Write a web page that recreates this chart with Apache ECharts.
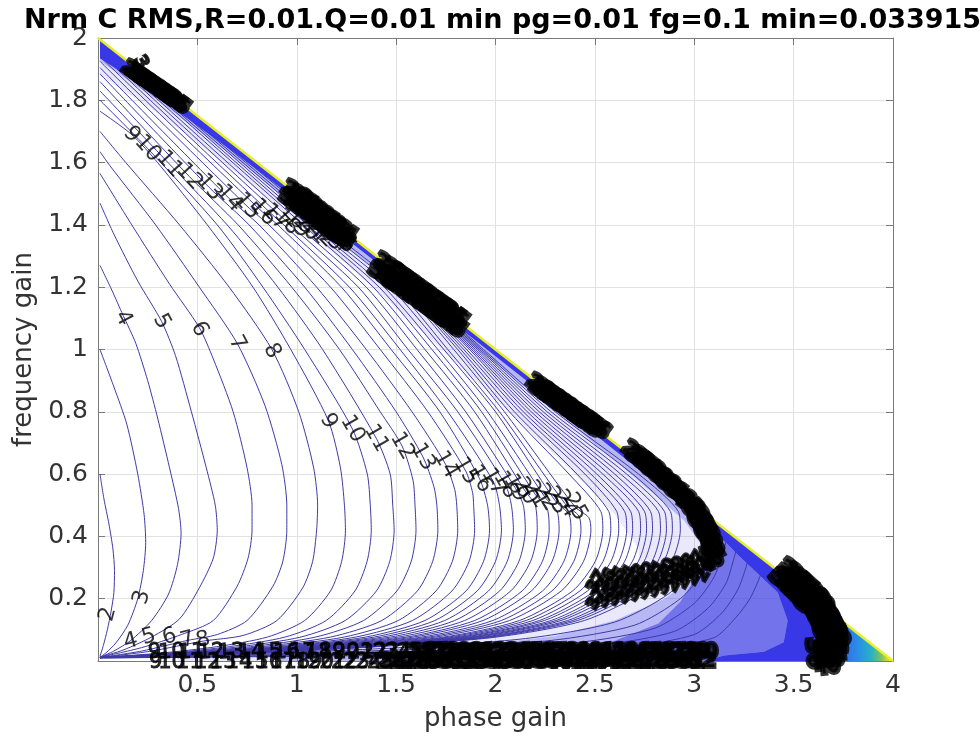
<!DOCTYPE html>
<html><head><meta charset="utf-8">
<script src="https://cdn.jsdelivr.net/npm/echarts@6/dist/echarts.min.js"></script>
<style>html,body{margin:0;padding:0;background:#fff}#c{width:980px;height:740px}</style>
</head><body><div id="c"></div>
<script>
const chartTitle = 'Nrm C RMS,R=0.01.Q=0.01 min pg=0.01 fg=0.1 min=0.033915';
const xAxisName = 'phase gain';
const yAxisName = 'frequency gain';

// contour lines: [phase gain, frequency gain]
const contour02 = [[0.01,0.60],[0.03,0.52],[0.055,0.44],[0.075,0.36],[0.083,0.29],[0.08,0.22],[0.066,0.16],[0.047,0.10],[0.027,0.05],[0.01,0.015]];
const contour03 = [[0.01,1.00],[0.08,0.88],[0.145,0.76],[0.20,0.60],[0.232,0.47],[0.24,0.38],[0.228,0.29],[0.20,0.20],[0.15,0.115],[0.09,0.058],[0.04,0.026],[0.01,0.012]];
const contour04 = [[0.01,1.27],[0.07,1.19],[0.126,1.11],[0.19,1.02],[0.25,0.90],[0.30,0.78],[0.36,0.62],[0.405,0.49],[0.418,0.41],[0.40,0.31],[0.355,0.215],[0.27,0.13],[0.165,0.066],[0.08,0.032],[0.01,0.012]];
const contour05 = [[0.01,1.47],[0.08,1.37],[0.20,1.22],[0.32,1.09],[0.39,0.98],[0.47,0.80],[0.545,0.62],[0.59,0.50],[0.60,0.42],[0.58,0.33],[0.51,0.235],[0.41,0.135],[0.27,0.077],[0.13,0.036],[0.01,0.012]];
const contour06 = [[0.01,1.565],[0.17,1.40],[0.36,1.21],[0.51,1.07],[0.58,0.97],[0.68,0.80],[0.75,0.62],[0.775,0.50],[0.775,0.42],[0.755,0.33],[0.70,0.24],[0.58,0.13],[0.42,0.085],[0.22,0.043],[0.01,0.012]];
const contour07 = [[0.01,1.635],[0.06,1.59],[0.29,1.40],[0.51,1.20],[0.70,1.02],[0.84,0.82],[0.925,0.63],[0.95,0.50],[0.95,0.42],[0.93,0.32],[0.88,0.24],[0.75,0.13],[0.60,0.085],[0.45,0.066],[0.22,0.032],[0.01,0.011]];
const contour08 = [[0.01,1.70],[0.14,1.60],[0.41,1.40],[0.66,1.20],[0.875,1.00],[1.01,0.80],[1.085,0.62],[1.105,0.50],[1.10,0.42],[1.08,0.32],[1.03,0.235],[0.90,0.13],[0.73,0.082],[0.53,0.064],[0.26,0.031],[0.01,0.011]];
const contour09 = [[0.01,1.765],[0.17,1.69],[0.30,1.60],[0.55,1.40],[0.78,1.20],[0.97,1.00],[1.16,0.77],[1.22,0.62],[1.24,0.50],[1.245,0.42],[1.226,0.32],[1.17,0.225],[1.04,0.13],[0.853,0.077],[0.598,0.046],[0.311,0.025],[0.01,0.011]];
const contour10 = [[0.01,1.80],[0.25,1.645],[0.60,1.40],[0.83,1.20],[1.04,1.00],[1.28,0.745],[1.355,0.60],[1.37,0.50],[1.375,0.42],[1.354,0.32],[1.293,0.225],[1.148,0.13],[0.942,0.077],[0.66,0.046],[0.344,0.025],[0.01,0.011]];
const contour11 = [[0.01,1.83],[0.36,1.595],[0.65,1.40],[0.905,1.20],[1.13,1.00],[1.40,0.715],[1.47,0.60],[1.483,0.50],[1.49,0.42],[1.468,0.32],[1.401,0.225],[1.244,0.13],[1.021,0.077],[0.715,0.046],[0.373,0.025],[0.01,0.011]];
const contour12 = [[0.01,1.86],[0.46,1.555],[0.705,1.40],[0.975,1.20],[1.215,1.00],[1.42,0.80],[1.53,0.69],[1.585,0.58],[1.595,0.50],[1.60,0.42],[1.576,0.32],[1.504,0.225],[1.336,0.13],[1.096,0.077],[0.768,0.046],[0.40,0.025],[0.01,0.011]];
const contour13 = [[0.01,1.885],[0.56,1.52],[0.76,1.40],[1.04,1.20],[1.28,1.00],[1.50,0.80],[1.635,0.655],[1.69,0.56],[1.705,0.50],[1.71,0.42],[1.684,0.32],[1.607,0.225],[1.428,0.13],[1.171,0.077],[0.821,0.046],[0.428,0.025],[0.01,0.011]];
const contour14 = [[0.01,1.905],[0.66,1.485],[0.81,1.40],[1.10,1.20],[1.35,1.00],[1.58,0.80],[1.75,0.63],[1.795,0.55],[1.805,0.50],[1.81,0.42],[1.783,0.32],[1.701,0.225],[1.511,0.13],[1.24,0.077],[0.869,0.046],[0.453,0.025],[0.01,0.011]];
const contour15 = [[0.01,1.925],[0.75,1.46],[0.86,1.40],[1.17,1.20],[1.42,1.00],[1.66,0.80],[1.85,0.61],[1.885,0.54],[1.89,0.50],[1.895,0.42],[1.867,0.32],[1.781,0.225],[1.582,0.13],[1.298,0.077],[0.91,0.046],[0.474,0.025],[0.01,0.011]];
const contour16 = [[0.01,1.94],[0.83,1.44],[0.905,1.40],[1.225,1.20],[1.475,1.00],[1.72,0.80],[1.92,0.585],[1.96,0.50],[1.97,0.42],[1.94,0.32],[1.852,0.225],[1.645,0.13],[1.349,0.077],[0.946,0.046],[0.493,0.025],[0.01,0.011]];
const contour17 = [[0.01,1.952],[0.89,1.425],[0.935,1.40],[1.265,1.20],[1.52,1.00],[1.76,0.80],[1.99,0.575],[2.02,0.50],[2.03,0.42],[2.00,0.32],[1.908,0.225],[1.695,0.13],[1.391,0.077],[0.974,0.046],[0.508,0.025],[0.01,0.011]];
const contour18 = [[0.01,1.962],[0.95,1.41],[1.31,1.20],[1.56,1.00],[1.81,0.80],[2.05,0.565],[2.08,0.50],[2.09,0.42],[2.059,0.32],[1.965,0.225],[1.745,0.13],[1.432,0.077],[1.003,0.046],[0.523,0.025],[0.01,0.011]];
const contour19 = [[0.01,1.97],[1.00,1.40],[1.35,1.20],[1.605,1.00],[1.85,0.80],[2.10,0.555],[2.14,0.50],[2.15,0.42],[2.118,0.32],[2.021,0.225],[1.795,0.13],[1.473,0.077],[1.032,0.046],[0.538,0.025],[0.01,0.011]];
const contour20 = [[0.01,1.977],[1.05,1.39],[1.385,1.20],[1.645,1.00],[1.895,0.80],[2.15,0.545],[2.20,0.50],[2.21,0.42],[2.177,0.32],[2.077,0.225],[1.845,0.13],[1.514,0.077],[1.061,0.046],[0.553,0.025],[0.01,0.011]];
const contour21 = [[0.01,1.983],[1.09,1.38],[1.415,1.20],[1.68,1.00],[1.93,0.80],[2.20,0.535],[2.26,0.49],[2.27,0.42],[2.236,0.32],[2.134,0.225],[1.895,0.13],[1.555,0.077],[1.09,0.046],[0.568,0.025],[0.01,0.011]];
const contour22 = [[0.01,1.988],[1.13,1.37],[1.44,1.20],[1.71,1.00],[1.96,0.80],[2.25,0.525],[2.31,0.48],[2.32,0.42],[2.285,0.32],[2.181,0.225],[1.937,0.13],[1.589,0.077],[1.114,0.046],[0.58,0.025],[0.01,0.011]];
const contour23 = [[0.01,1.992],[1.17,1.36],[1.47,1.20],[1.74,1.00],[2.00,0.80],[2.30,0.515],[2.37,0.47],[2.38,0.42],[2.344,0.32],[2.237,0.225],[1.987,0.13],[1.63,0.077],[1.142,0.046],[0.595,0.025],[0.01,0.011]];
const contour24 = [[0.01,1.995],[1.20,1.355],[1.495,1.20],[1.76,1.00],[2.02,0.80],[2.35,0.505],[2.42,0.465],[2.43,0.42],[2.394,0.32],[2.284,0.225],[2.029,0.13],[1.665,0.077],[1.166,0.046],[0.608,0.025],[0.01,0.011]];
const contour25 = [[0.01,1.998],[1.23,1.35],[1.52,1.20],[1.79,1.00],[2.045,0.80],[2.40,0.495],[2.47,0.46],[2.48,0.42],[2.443,0.32],[2.331,0.225],[2.071,0.13],[1.699,0.077],[1.19,0.046],[0.62,0.025],[0.01,0.011]];
const contour26 = [[1.37,1.30],[1.53,1.20],[1.81,1.00],[2.07,0.80],[2.37,0.60],[2.53,0.48],[2.54,0.42],[2.502,0.32],[2.388,0.225],[2.121,0.13],[1.74,0.077],[1.219,0.046],[0.635,0.025],[0.01,0.011]];
const contour27 = [[1.37,1.30],[1.535,1.20],[1.825,1.00],[2.095,0.80],[2.41,0.60],[2.57,0.48],[2.58,0.42],[2.541,0.32],[2.425,0.225],[2.154,0.13],[1.767,0.077],[1.238,0.046],[0.645,0.025],[0.01,0.011]];
const contour28 = [[1.37,1.30],[1.54,1.20],[1.84,1.00],[2.12,0.80],[2.45,0.60],[2.61,0.48],[2.62,0.42],[2.581,0.32],[2.463,0.225],[2.188,0.13],[1.795,0.077],[1.258,0.046],[0.655,0.025],[0.01,0.011]];
const contour29 = [[1.37,1.30],[1.545,1.20],[1.855,1.00],[2.14,0.80],[2.48,0.60],[2.65,0.48],[2.66,0.42],[2.62,0.32],[2.50,0.225],[2.221,0.13],[1.822,0.077],[1.277,0.046],[0.665,0.025],[0.01,0.011]];
const contour30 = [[1.37,1.30],[1.55,1.20],[1.87,1.00],[2.16,0.80],[2.51,0.60],[2.68,0.48],[2.69,0.42],[2.65,0.32],[2.529,0.225],[2.246,0.13],[1.843,0.077],[1.291,0.046],[0.673,0.025],[0.01,0.011]];
const contour31 = [[1.37,1.30],[1.555,1.20],[1.88,1.00],[2.18,0.80],[2.54,0.60],[2.72,0.48],[2.73,0.42],[2.689,0.32],[2.566,0.225],[2.28,0.13],[1.87,0.077],[1.31,0.046],[0.683,0.025],[0.01,0.011]];
const contour32 = [[1.37,1.30],[1.56,1.20],[1.89,1.00],[2.20,0.80],[2.57,0.60],[2.75,0.48],[2.76,0.42],[2.719,0.32],[2.594,0.225],[2.305,0.13],[1.891,0.077],[1.325,0.046],[0.69,0.025],[0.01,0.011]];
const contour33 = [[1.37,1.30],[1.565,1.20],[1.90,1.00],[2.22,0.80],[2.60,0.60],[2.78,0.48],[2.79,0.42],[2.748,0.32],[2.623,0.225],[2.33,0.13],[1.911,0.077],[1.339,0.046],[0.698,0.025],[0.01,0.011]];
const contour34 = [[1.37,1.30],[1.57,1.20],[1.91,1.00],[2.24,0.80],[2.63,0.60],[2.82,0.48],[2.83,0.42],[2.788,0.32],[2.66,0.225],[2.363,0.13],[1.939,0.077],[1.358,0.046],[0.708,0.025],[0.01,0.011]];
const contour35 = [[1.37,1.30],[1.575,1.20],[1.92,1.00],[2.26,0.80],[2.66,0.60],[2.85,0.48],[2.86,0.42],[2.817,0.32],[2.688,0.225],[2.388,0.13],[1.959,0.077],[1.373,0.046],[0.715,0.025],[0.01,0.011]];
const contour36 = [[1.37,1.30],[1.58,1.20],[1.93,1.00],[2.28,0.80],[2.69,0.60],[2.88,0.48],[2.89,0.42],[2.847,0.32],[2.717,0.225],[2.413,0.13],[1.98,0.077],[1.387,0.046],[0.723,0.025],[0.01,0.011]];
const contour37 = [[1.37,1.30],[1.585,1.20],[1.94,1.00],[2.30,0.80],[2.72,0.60],[2.92,0.48],[2.93,0.42],[2.886,0.32],[2.754,0.225],[2.447,0.13],[2.007,0.077],[1.406,0.046],[0.733,0.025],[0.01,0.011]];
const contour38 = [[3.06,0.46],[3.05,0.40],[3.0,0.31],[2.87,0.215],[2.60,0.125],[2.15,0.072],[1.5,0.042],[0.76,0.024],[0.01,0.011]];
const contour39 = [[3.12,0.43],[3.10,0.38],[3.05,0.29],[2.93,0.20],[2.70,0.115],[2.28,0.066],[1.6,0.038],[0.8,0.022],[0.01,0.011]];
const contour40 = [[3.17,0.41],[3.15,0.36],[3.10,0.27],[3.0,0.185],[2.80,0.105],[2.42,0.06],[1.7,0.034],[0.85,0.02],[0.01,0.011]];
const contour41 = [[3.22,0.38],[3.20,0.33],[3.16,0.25],[3.07,0.17],[2.90,0.095],[2.55,0.054],[1.8,0.03],[0.9,0.018],[0.01,0.01]];
const contour42 = [[3.28,0.35],[3.26,0.30],[3.22,0.23],[3.14,0.155],[3.0,0.085],[2.68,0.048],[1.9,0.027],[0.95,0.016],[0.01,0.01]];
const contour43 = [[3.35,0.32],[3.33,0.27],[3.28,0.20],[3.21,0.14],[3.1,0.075],[2.8,0.042],[2.0,0.024],[1.0,0.015],[0.01,0.01]];

// dense-contour zones near the stability edge (outlines)
const zoneLight = [[0.01,1.88],[0.3,1.76],[0.7,1.565],[1.0,1.41],[1.4,1.19],[1.8,0.96],[2.1,0.78],[2.4,0.60],[2.6,0.47],[2.72,0.36],[2.72,0.28],[2.6,0.2],[2.3,0.13],[1.9,0.085],[1.5,0.06],[1.1,0.04],[0.7,0.025],[0.4,0.015],[0.4,0.0],[4.0,0.0],[0.01,1.995]];
const zoneMid = [[0.01,1.925],[0.3,1.80],[0.7,1.61],[1.0,1.455],[1.5,1.205],[2.0,0.955],[2.4,0.75],[2.7,0.59],[2.95,0.45],[3.05,0.36],[3.0,0.27],[2.85,0.2],[2.6,0.13],[2.3,0.08],[1.9,0.05],[1.4,0.03],[0.9,0.015],[0.9,0.0],[4.0,0.0],[0.01,1.995]];
const zoneDense = [[3.13,0.40],[3.06,0.33],[3.0,0.26],[2.93,0.19],[2.82,0.12],[2.6,0.065],[2.2,0.035],[2.2,0.0],[3.05,0.0],[3.15,0.018],[3.35,0.03],[3.45,0.06],[3.47,0.13],[3.42,0.22],[3.32,0.28],[3.22,0.34]];
const zoneSolid = [[0.01,1.935],[0.26,1.83],[0.68,1.635],[1.0,1.48],[1.5,1.23],[2.0,0.978],[2.5,0.727],[2.75,0.60],[3.0,0.47],[3.13,0.40],[3.22,0.34],[3.32,0.28],[3.42,0.22],[3.47,0.13],[3.45,0.06],[3.35,0.03],[3.15,0.018],[3.05,0.0],[4.0,0.0],[0.01,1.995]];
const zoneCorner = [[3.68,0.0],[4.0,0.0],[3.68,0.16]];
const stabilityEdge = [[0.0,2.0],[4.0,0.0]];

// contour labels
const lowLeftText = ['2','3'];
const lowLeftPos = [[0.05,0.15],[0.222,0.205]];
const bottomSmallText = ['4','5','6','7','8'];
const bottomSmallPos = [[0.165,0.062],[0.255,0.077],[0.36,0.077],[0.45,0.067],[0.53,0.067]];
const midLeftText = ['4','5','6','7','8'];
const midLeftPos = [[0.126,1.10],[0.32,1.09],[0.51,1.065],[0.70,1.02],[0.875,0.995]];
const rowText = ['9','10','11','12','13','14','15','16','17','18','19','20','21','22','23','24','25'];
const upperRowPos = [[0.17,1.69],[0.25,1.645],[0.36,1.595],[0.46,1.555],[0.56,1.52],[0.66,1.485],[0.75,1.46],[0.83,1.44],[0.89,1.425],[0.95,1.41],[1.00,1.40],[1.05,1.39],[1.09,1.38],[1.13,1.37],[1.17,1.36],[1.20,1.355],[1.23,1.35]];
const midRowPos = [[1.16,0.77],[1.28,0.745],[1.40,0.715],[1.53,0.69],[1.635,0.655],[1.75,0.63],[1.85,0.61],[1.92,0.585],[1.99,0.575],[2.05,0.565],[2.10,0.555],[2.15,0.545],[2.20,0.535],[2.25,0.525],[2.30,0.515],[2.35,0.505],[2.40,0.495]];
const bottomRowAPos = [[0.285,0.028],[0.37,0.028],[0.47,0.028],[0.57,0.028],[0.67,0.028],[0.77,0.028],[0.86,0.028],[0.95,0.028],[1.03,0.028],[1.11,0.028],[1.18,0.028],[1.25,0.028],[1.32,0.028],[1.39,0.028],[1.45,0.028],[1.51,0.028],[1.57,0.028]];
const bottomRowBPos = [[0.29,-0.006],[0.37,-0.006],[0.46,-0.006],[0.55,-0.006],[0.63,-0.006],[0.71,-0.006],[0.79,-0.006],[0.86,-0.006],[0.93,-0.006],[1.00,-0.006],[1.06,-0.006],[1.12,-0.006],[1.18,-0.006],[1.24,-0.006],[1.30,-0.006],[1.36,-0.006],[1.42,-0.006]];
const crowdText = ['26','27','28','29','30','31','32','33','34','35','36','37','38','39','40','41','42','43','44','45'];
const stripAPos = [[1.63,0.026],[1.69,0.026],[1.75,0.026],[1.81,0.026],[1.87,0.026],[1.93,0.026],[1.99,0.026],[2.05,0.026],[2.11,0.026],[2.17,0.026],[2.23,0.026],[2.29,0.026],[2.35,0.026],[2.41,0.026],[2.47,0.026],[2.53,0.026],[2.59,0.026],[2.65,0.026],[2.71,0.026],[2.77,0.026],[2.83,0.026],[2.89,0.026],[2.95,0.026],[3.01,0.026],[3.05,0.026]];
const stripBPos = [[1.48,-0.004],[1.54,-0.004],[1.60,-0.004],[1.66,-0.004],[1.72,-0.004],[1.78,-0.004],[1.84,-0.004],[1.90,-0.004],[1.96,-0.004],[2.02,-0.004],[2.08,-0.004],[2.14,-0.004],[2.20,-0.004],[2.26,-0.004],[2.32,-0.004],[2.38,-0.004],[2.44,-0.004],[2.50,-0.004],[2.56,-0.004],[2.62,-0.004],[2.68,-0.004],[2.74,-0.004],[2.80,-0.004],[2.86,-0.004],[2.92,-0.004],[2.98,-0.004],[3.04,-0.004]];
const blob1Pos = [[0.18,1.888],[0.205,1.877],[0.23,1.866],[0.255,1.855],[0.28,1.844],[0.305,1.833],[0.33,1.822],[0.355,1.811],[0.38,1.80],[0.40,1.792]];
const blob1TopPos = [[0.215,1.922]];
const blob2Pos = [[0.99,1.50],[1.02,1.485],[1.05,1.47],[1.08,1.455],[1.11,1.44],[1.14,1.425],[1.17,1.41],[1.20,1.395],[1.23,1.38],[0.98,1.475],[1.01,1.46],[1.04,1.445],[1.07,1.43],[1.10,1.415],[1.13,1.40],[1.16,1.385],[1.19,1.37],[1.22,1.358]];
const blob3Pos = [[1.45,1.265],[1.49,1.247],[1.53,1.228],[1.57,1.21],[1.61,1.192],[1.65,1.173],[1.69,1.155],[1.73,1.137],[1.77,1.118],[1.79,1.108],[1.43,1.238],[1.47,1.22],[1.51,1.20],[1.55,1.183],[1.59,1.165],[1.63,1.147],[1.67,1.128],[1.71,1.11],[1.75,1.092],[1.78,1.078]];
const blob4Pos = [[2.22,0.88],[2.25,0.866],[2.28,0.853],[2.31,0.839],[2.34,0.826],[2.37,0.812],[2.40,0.799],[2.43,0.785],[2.46,0.772],[2.49,0.759],[2.51,0.75],[2.235,0.862],[2.265,0.848],[2.295,0.835],[2.325,0.821],[2.355,0.808],[2.385,0.794],[2.415,0.781],[2.445,0.767],[2.475,0.754]];
const uArmPos = [[2.70,0.665],[2.74,0.645],[2.78,0.625],[2.82,0.60],[2.86,0.578],[2.90,0.555],[2.94,0.53],[2.98,0.50],[2.72,0.645],[2.76,0.625],[2.80,0.602],[2.84,0.58],[2.88,0.556],[2.92,0.532],[2.96,0.505]];
const uBendPos = [[3.01,0.475],[3.04,0.45],[3.06,0.425],[3.075,0.40],[3.085,0.375],[3.09,0.355],[3.08,0.335],[2.99,0.47],[3.02,0.445],[3.04,0.42],[3.055,0.395]];
const uRow1Pos = [[3.06,0.33],[3.01,0.318],[2.96,0.308],[2.91,0.30],[2.86,0.293],[2.81,0.287],[2.76,0.281],[2.71,0.275],[2.66,0.27],[2.61,0.265],[2.56,0.26],[2.51,0.255]];
const uRow2Pos = [[3.06,0.29],[3.01,0.278],[2.96,0.267],[2.91,0.257],[2.86,0.249],[2.81,0.241],[2.76,0.234],[2.71,0.227],[2.66,0.22],[2.61,0.213],[2.56,0.207],[2.51,0.20]];
const blob6UpperPos = [[3.49,0.27],[3.52,0.255],[3.55,0.235],[3.58,0.215],[3.61,0.19],[3.46,0.25],[3.50,0.23],[3.53,0.21],[3.56,0.19],[3.59,0.165]];
const blob6MidPos = [[3.64,0.165],[3.66,0.14],[3.68,0.115],[3.70,0.09],[3.62,0.14],[3.64,0.115],[3.66,0.09],[3.67,0.065]];
const blob6LowPos = [[3.71,0.07],[3.70,0.05],[3.69,0.03],[3.66,0.04],[3.60,0.025],[3.64,0.018],[3.67,0.004]];

const contourSet = [contour02,contour03,contour04,contour05,contour06,contour07,contour08,contour09,contour10,contour11,contour12,contour13,contour14,contour15,contour16,contour17,contour18,contour19,contour20,contour21,contour22,contour23,contour24,contour25,contour26,contour27,contour28,contour29,contour30,contour31,contour32,contour33,contour34,contour35,contour36,contour37,contour38,contour39,contour40,contour41,contour42,contour43];

const FONT = 'DejaVu Sans';
function polySeries(points, fill, z) {
  return {type:'custom', coordinateSystem:'cartesian2d', z:z, silent:true, clip:true,
    data:[points[0]],
    renderItem:function(params, api){
      return {type:'polygon', shape:{points:points.map(function(p){return api.coord(p);}), smooth:0}, style:{fill:fill}};
    }};
}
function textSeries(points, texts, rotate, size, weight, stroke) {
  const lab = {show:true, position:'inside', formatter:'{b}', rotate:rotate, fontSize:size, fontWeight:weight, color:'#000', fontFamily:FONT};
  if (stroke) { lab.textBorderColor = '#000'; lab.textBorderWidth = stroke; }
  return {type:'scatter', z:10, silent:true, clip:false, symbolSize:1, itemStyle:{color:'rgba(0,0,0,0)'},
    data:points.map(function(p,i){return {value:p, name:texts[i % texts.length]};}),
    label:lab};
}

const series = [];
series.push(polySeries(zoneLight, 'rgba(120,120,232,0.16)', 1));
series.push(polySeries(zoneMid, 'rgba(70,70,226,0.30)', 1));
series.push(polySeries(zoneDense, 'rgba(60,60,228,0.55)', 1));
contourSet.forEach(function(c){
  series.push({type:'line', data:c, showSymbol:false, smooth:0.25, silent:true, z:2,
    lineStyle:{color:'#3f3aa6', width:1}});
});
series.push(polySeries(zoneSolid, '#3838e6', 3));
series.push(polySeries(zoneCorner, new echarts.graphic.LinearGradient(0,0,1,0,[
  {offset:0, color:'#3a48ee'},{offset:0.45, color:'#2a8ee6'},{offset:0.65, color:'#27b0c8'},
  {offset:0.82, color:'#7cc45a'},{offset:0.92, color:'#e0d830'},{offset:1, color:'#f9f50e'}]), 4));
series.push({type:'line', data:stabilityEdge, showSymbol:false, silent:true, z:5, lineStyle:{color:'#e8ee2a', width:2.5}});

series.push(textSeries(lowLeftPos, lowLeftText, 75, 22, 'normal'));
series.push(textSeries(bottomSmallPos, bottomSmallText, 15, 22, 'normal'));
series.push(textSeries(midLeftPos, midLeftText, -62, 22, 'normal'));
series.push(textSeries(upperRowPos, rowText, -48, 22, 'normal'));
series.push(textSeries(midRowPos, rowText, -60, 22, 'normal'));
series.push(textSeries(bottomRowAPos, rowText, 3, 21, 'normal', 1));
series.push(textSeries(bottomRowBPos, rowText, 0, 21, 'normal', 1));
series.push(textSeries(stripAPos, crowdText, 3, 20, 'bold', 4));
series.push(textSeries(stripBPos, crowdText, 0, 20, 'bold', 4));
series.push(textSeries(blob1Pos, crowdText, -36, 18, 'bold', 5));
series.push(textSeries(blob1TopPos, ['3'], -60, 18, 'bold', 2));
series.push(textSeries(blob2Pos, crowdText, -33, 20, 'bold', 5));
series.push(textSeries(blob3Pos, crowdText, -36, 21, 'bold', 5));
series.push(textSeries(blob4Pos, crowdText, -36, 19, 'bold', 5));
series.push(textSeries(uArmPos, crowdText, -38, 19, 'bold', 5));
series.push(textSeries(uBendPos, crowdText, -62, 19, 'bold', 5));
series.push(textSeries(uRow1Pos, crowdText, 60, 16, 'bold', 3));
series.push(textSeries(uRow2Pos, crowdText, 60, 16, 'bold', 3));
series.push(textSeries(blob6UpperPos, crowdText, -42, 25, 'bold', 6));
series.push(textSeries(blob6MidPos, crowdText, -62, 25, 'bold', 6));
series.push(textSeries(blob6LowPos, crowdText, -85, 22, 'bold', 5));

const axisCol = '#7a7a7a';
const chart = echarts.init(document.getElementById('c'), null, {renderer:'canvas'});
chart.setOption({
  animation:false,
  backgroundColor:'#fff',
  title:{text:chartTitle, left:19, top:2, textStyle:{fontFamily:FONT, fontSize:27, fontWeight:'bold', color:'#000'}},
  grid:{left:98, right:87, top:38, bottom:79, outerBoundsMode:'none'},
  xAxis:[
    {type:'value', min:0, max:4, interval:0.5, position:'bottom',
     name:xAxisName, nameLocation:'middle', nameGap:45,
     nameTextStyle:{fontFamily:FONT, fontSize:26, color:'#333'},
     axisLine:{show:true, onZero:false, lineStyle:{color:axisCol}},
     axisTick:{show:true, inside:true, length:7, lineStyle:{color:axisCol}},
     axisLabel:{fontFamily:FONT, fontSize:25, color:'#333', margin:12, formatter:function(v){return v===0?'':String(v);}},
     splitLine:{show:true, lineStyle:{color:'#e2e2e2', width:1}}},
    {type:'value', min:0, max:4, interval:0.5, position:'top',
     axisLine:{show:true, onZero:false, lineStyle:{color:axisCol}},
     axisTick:{show:true, inside:true, length:7, lineStyle:{color:axisCol}},
     axisLabel:{show:false}, splitLine:{show:false}}
  ],
  yAxis:[
    {type:'value', min:0, max:2, interval:0.2, position:'left',
     name:yAxisName, nameLocation:'middle', nameGap:58,
     nameTextStyle:{fontFamily:FONT, fontSize:26, color:'#333'},
     axisLine:{show:true, onZero:false, lineStyle:{color:axisCol}},
     axisTick:{show:true, inside:true, length:7, lineStyle:{color:axisCol}},
     axisLabel:{fontFamily:FONT, fontSize:25, color:'#333', margin:10, formatter:function(v){return v===0?'':String(Math.round(v*10)/10);}},
     splitLine:{show:true, lineStyle:{color:'#e2e2e2', width:1}}},
    {type:'value', min:0, max:2, interval:0.2, position:'right',
     axisLine:{show:true, onZero:false, lineStyle:{color:axisCol}},
     axisTick:{show:true, inside:true, length:7, lineStyle:{color:axisCol}},
     axisLabel:{show:false}, splitLine:{show:false}}
  ],
  series:series
});
</script>
</body></html>
